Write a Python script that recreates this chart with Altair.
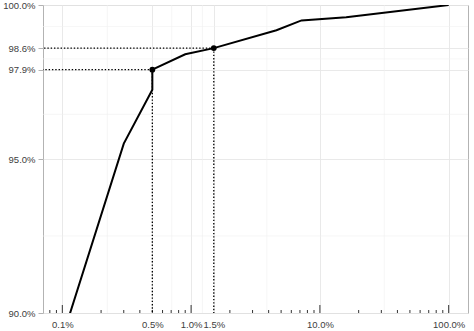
import altair as alt
import pandas as pd
import numpy as np

# ---- data ----
curve_x = [0.1, 0.3, 0.5, 0.5, 0.9, 1.5, 4.6, 7.2, 16.0, 100.0]
curve_y = [89.2, 95.5, 97.25, 97.9, 98.4, 98.6, 99.18, 99.5, 99.6, 100.0]

mark_x = [0.5, 1.5]
mark_y = [97.9, 98.6]

x_breaks = [0.1, 0.5, 1.0, 1.5, 10.0, 100.0]
y_breaks = [90.0, 95.0, 97.9, 98.6, 100.0]

log_major = [0.1, 1.0, 10.0, 100.0]
log_minor_mult = [2, 3, 4, 5, 6, 7, 8, 9]
log_minor_decades = [0.01, 0.1, 1.0, 10.0]

# ---- layout ----
W, H = 425, 308
x_lo, x_hi = 10 ** (-1 - 0.15), 10 ** (2 + 0.15)
FONT = "Liberation Sans"
TXT = "#404040"
BORDER = "#b3b3b3"

# derived decoration positions
xb = np.log10(x_breaks)
x_minor = list(10 ** ((xb[:-1] + xb[1:]) / 2))
x_minor.append(10 ** (xb[-1] + (xb[-1] - xb[-2]) / 2))
x_minor = [v for v in x_minor if x_lo <= v <= x_hi]
y_minor = [(a + b) / 2 for a, b in zip(y_breaks[:-1], y_breaks[1:])]
minor_ticks = [m * d for d in log_minor_decades for m in log_minor_mult]
minor_ticks = [v for v in minor_ticks if x_lo <= v <= x_hi]

curve = pd.DataFrame({"x": curve_x, "y": curve_y, "i": range(len(curve_x))})
marks = pd.DataFrame({"x": mark_x, "y": mark_y})

xscale = alt.Scale(type="log", domain=[x_lo, x_hi], nice=False)
yscale = alt.Scale(domain=[90, 100], nice=False, zero=False)

xaxis = alt.Axis(
    values=x_breaks, labelExpr="format(datum.value, '.1f') + '%'",
    ticks=False, domain=False, grid=True, gridColor="#e6e6e6", gridWidth=0.9,
    labelOverlap=False, labelFlush=False, labelFontSize=9.5, labelColor=TXT,
    labelFont=FONT, labelPadding=6, title=None,
)
yaxis = alt.Axis(
    values=y_breaks, labelExpr="format(datum.value, '.1f') + '%'",
    ticks=True, tickSize=5, tickColor=BORDER, domain=False, grid=True,
    gridColor="#e6e6e6", gridWidth=0.9, labelFontSize=9.5, labelColor=TXT,
    labelFont=FONT, labelPadding=3, title=None,
)

X = alt.X("x:Q", scale=xscale, axis=xaxis)
Y = alt.Y("y:Q", scale=yscale, axis=yaxis)

grid_v = alt.Chart(pd.DataFrame({"x": x_minor})).mark_rule(
    color="#f0f0f0", strokeWidth=0.6).encode(x=X)
grid_h = alt.Chart(pd.DataFrame({"y": y_minor})).mark_rule(
    color="#f0f0f0", strokeWidth=0.6).encode(y=Y)

ticks_major = alt.Chart(pd.DataFrame({"x": log_major})).mark_rule(
    color="#333333", strokeWidth=1).encode(
    x=X, y=alt.value(H - 8), y2=alt.value(H))
ticks_minor = alt.Chart(pd.DataFrame({"x": minor_ticks})).mark_rule(
    color="#333333", strokeWidth=1).encode(
    x=X, y=alt.value(H - 3), y2=alt.value(H))

dot_h = alt.Chart(marks).mark_rule(
    color="black", strokeWidth=1.3, strokeDash=[1.4, 1.9]).encode(
    x=X, x2=alt.value(0), y=Y)
dot_v = alt.Chart(marks).mark_rule(
    color="black", strokeWidth=1.3, strokeDash=[1.4, 1.9]).encode(
    x=X, y=Y, y2=alt.value(H))

line = alt.Chart(curve).mark_line(color="black", strokeWidth=2, clip=True).encode(
    x=X, y=Y, order=alt.Order("i:Q"))
pts = alt.Chart(marks).mark_circle(color="black", opacity=1, size=34).encode(x=X, y=Y)

chart = alt.layer(grid_v, grid_h, ticks_major, ticks_minor, dot_h, dot_v, line, pts).properties(
    width=W, height=H,
    autosize=alt.AutoSizeParams(type="none"),
    padding={"left": 43, "top": 5, "right": 6, "bottom": 18},
).configure_view(stroke=BORDER, strokeWidth=1)

chart.save("out.html", embed_options={"renderer": "svg", "actions": False})
